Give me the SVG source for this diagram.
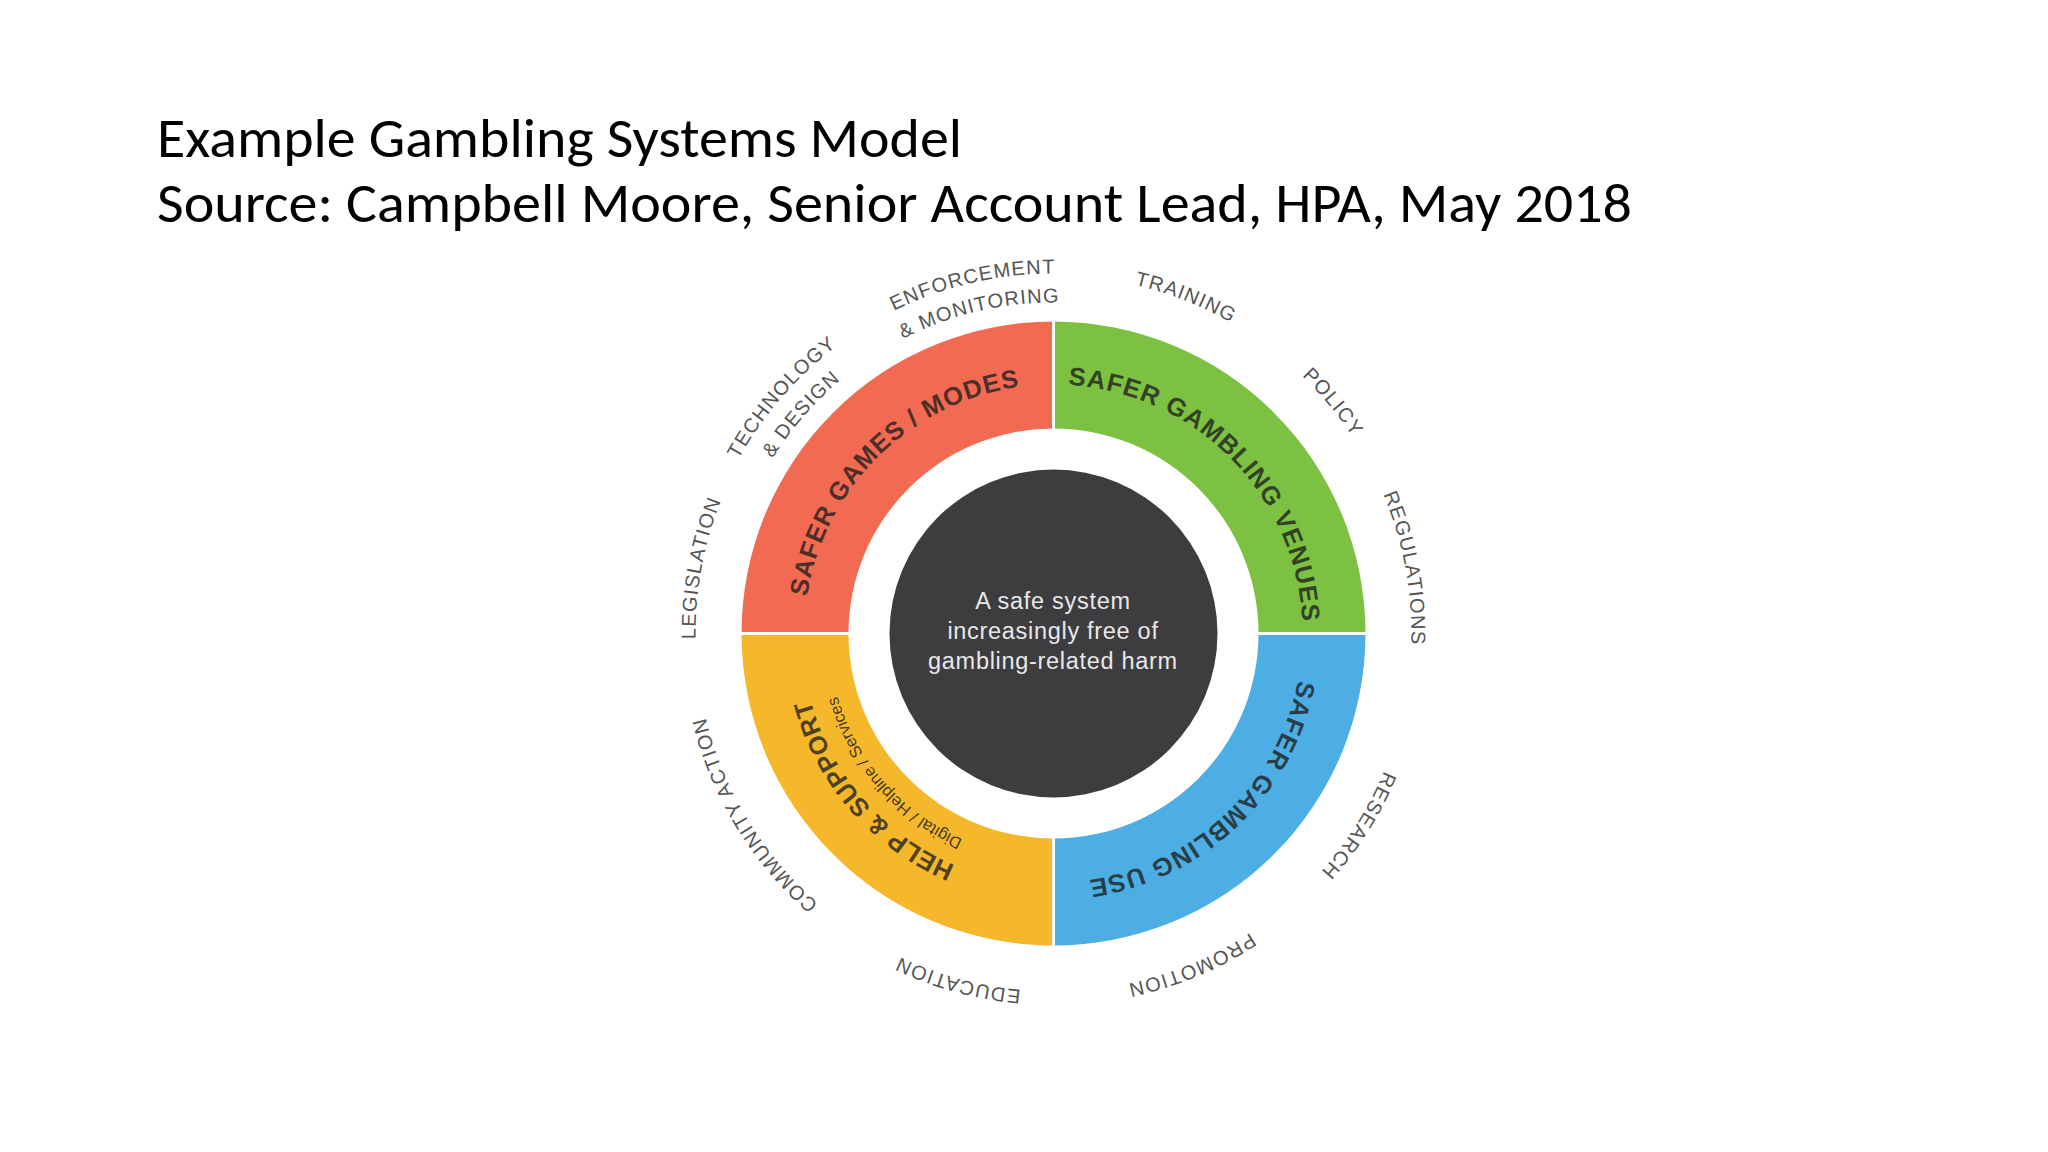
<svg xmlns="http://www.w3.org/2000/svg" xmlns:xlink="http://www.w3.org/1999/xlink" width="2048" height="1152" viewBox="0 0 2048 1152">
<style>
.title{font-family:"Carlito","Lato","Open Sans",sans-serif;font-size:56px;fill:#000}
.outer{font-family:"Liberation Sans",Arial,sans-serif;font-size:20px;letter-spacing:1.2px;fill:#555}
.band{font-family:"Liberation Sans",Arial,sans-serif;font-size:25.5px;font-weight:bold;letter-spacing:1px;fill:#1f1f1f;fill-opacity:0.8}
.small{font-family:"Liberation Sans",Arial,sans-serif;font-size:16.5px;fill:#1f1f1f;fill-opacity:0.85}
.core{font-family:"Liberation Sans",Arial,sans-serif;font-size:23.5px;letter-spacing:0.7px;fill:#e8e8e8;text-anchor:middle}
.div{stroke:#fff;stroke-width:3}
</style>
<defs>
<path id="r358" d="M -352.56,-62.17 A 358 358 0 0 1 352.56,-62.17"/>
<path id="r360" d="M -354.53,-62.51 A 360 360 0 0 1 354.53,-62.51"/>
<path id="r331" d="M -325.97,-57.48 A 331 331 0 0 1 325.97,-57.48"/>
<path id="r249" d="M -245.22,-43.24 A 249 249 0 0 1 245.22,-43.24"/>
<path id="r252" d="M -248.17,-43.76 A 252 252 0 0 1 248.17,-43.76"/>
<path id="r225" d="M -221.58,-39.07 A 225 225 0 0 1 221.58,-39.07"/>
</defs>
<rect width="2048" height="1152" fill="#fff"/>

<g id="title">
<text class="title" x="157" y="157" textLength="805" lengthAdjust="spacingAndGlyphs">Example Gambling Systems Model</text>
<text class="title" x="157" y="222" textLength="1475" lengthAdjust="spacingAndGlyphs">Source: Campbell Moore, Senior Account Lead, HPA, May 2018</text>
</g>

<g id="ring">
<g id="seg-games"><path fill="#F26A52" d="M 741.5 633.5 A 312 312 0 0 1 1053.5 321.5 L 1053.5 428.5 A 205 205 0 0 0 848.5 633.5 Z"/></g>
<g id="seg-venues"><path fill="#7CC142" d="M 1053.5 321.5 A 312 312 0 0 1 1365.5 633.5 L 1258.5 633.5 A 205 205 0 0 0 1053.5 428.5 Z"/></g>
<g id="seg-use"><path fill="#4CAEE3" d="M 1365.5 633.5 A 312 312 0 0 1 1053.5 945.5 L 1053.5 838.5 A 205 205 0 0 0 1258.5 633.5 Z"/></g>
<g id="seg-help"><path fill="#F6B82B" d="M 1053.5 945.5 A 312 312 0 0 1 741.5 633.5 L 848.5 633.5 A 205 205 0 0 0 1053.5 838.5 Z"/></g>
<line class="div" x1="1053.5" y1="320" x2="1053.5" y2="947"/>
<line class="div" x1="740" y1="633.5" x2="1367" y2="633.5"/>
</g>

<g id="core">
<circle cx="1053.5" cy="633.5" r="164" fill="#3D3C3F"/>
<text class="core" x="1053" y="609">A safe system</text>
<text class="core" x="1053" y="639">increasingly free of</text>
<text class="core" x="1053" y="669">gambling-related harm</text>
</g>

<g id="band-labels">
<g id="label-games" transform="translate(1053.5,633.5) rotate(315.4)"><text class="band"><textPath xlink:href="#r249" href="#r249" startOffset="50%" text-anchor="middle">SAFER GAMES / MODES</textPath></text></g>
<g id="label-venues" transform="translate(1053.5,633.5) rotate(45.4)"><text class="band"><textPath xlink:href="#r249" href="#r249" startOffset="50%" text-anchor="middle">SAFER GAMBLING VENUES</textPath></text></g>
<g id="label-use" transform="translate(1053.5,633.5) rotate(136.4)"><text class="band"><textPath xlink:href="#r249" href="#r249" startOffset="50%" text-anchor="middle">SAFER GAMBLING USE</textPath></text></g>
<g id="label-help" transform="translate(1053.5,633.5) rotate(228.9)"><text class="band" style="letter-spacing:0.3px"><textPath xlink:href="#r252" href="#r252" startOffset="50%" text-anchor="middle">HELP &amp; SUPPORT</textPath></text></g>
<g id="label-help-sub" transform="translate(1053.5,633.5) rotate(228.8)"><text class="small"><textPath xlink:href="#r225" href="#r225" startOffset="50%" text-anchor="middle">Digital / Helpline / Services</textPath></text></g>
</g>

<g id="outer-labels">
<g id="legislation" transform="translate(1053.5,633.5) rotate(280.5)"><text class="outer"><textPath xlink:href="#r358" href="#r358" startOffset="50%" text-anchor="middle">LEGISLATION</textPath></text></g>
<g id="technology" transform="translate(1053.5,633.5) rotate(311)"><text class="outer"><textPath xlink:href="#r360" href="#r360" startOffset="50%" text-anchor="middle">TECHNOLOGY</textPath></text><text class="outer"><textPath xlink:href="#r331" href="#r331" startOffset="50%" text-anchor="middle">&amp; DESIGN</textPath></text></g>
<g id="enforcement" transform="translate(1053.5,633.5) rotate(347)"><text class="outer"><textPath xlink:href="#r360" href="#r360" startOffset="50%" text-anchor="middle">ENFORCEMENT</textPath></text><text class="outer"><textPath xlink:href="#r331" href="#r331" startOffset="50%" text-anchor="middle">&amp; MONITORING</textPath></text></g>
<g id="training" transform="translate(1053.5,633.5) rotate(21.5)"><text class="outer"><textPath xlink:href="#r358" href="#r358" startOffset="50%" text-anchor="middle">TRAINING</textPath></text></g>
<g id="policy" transform="translate(1053.5,633.5) rotate(50.4)"><text class="outer"><textPath xlink:href="#r358" href="#r358" startOffset="50%" text-anchor="middle">POLICY</textPath></text></g>
<g id="regulations" transform="translate(1053.5,633.5) rotate(79.5)"><text class="outer"><textPath xlink:href="#r358" href="#r358" startOffset="50%" text-anchor="middle">REGULATIONS</textPath></text></g>
<g id="research" transform="translate(1053.5,633.5) rotate(122.2)"><text class="outer"><textPath xlink:href="#r358" href="#r358" startOffset="50%" text-anchor="middle">RESEARCH</textPath></text></g>
<g id="promotion" transform="translate(1053.5,633.5) rotate(157.4)"><text class="outer"><textPath xlink:href="#r358" href="#r358" startOffset="50%" text-anchor="middle">PROMOTION</textPath></text></g>
<g id="education" transform="translate(1053.5,633.5) rotate(195.4)"><text class="outer"><textPath xlink:href="#r358" href="#r358" startOffset="50%" text-anchor="middle">EDUCATION</textPath></text></g>
<g id="community" transform="translate(1053.5,633.5) rotate(238.8)"><text class="outer"><textPath xlink:href="#r358" href="#r358" startOffset="50%" text-anchor="middle">COMMUNITY ACTION</textPath></text></g>
</g>
</svg>
